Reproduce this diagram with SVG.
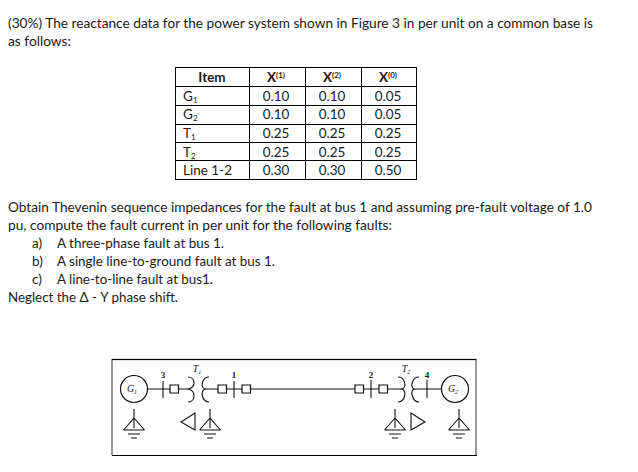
<svg xmlns="http://www.w3.org/2000/svg" width="638" height="472" viewBox="0 0 638 472">
<style>
text{font-family:"Lato","Liberation Sans",sans-serif;fill:#1a1a1a}
.t{font-size:13.5px}
.c{font-size:13.5px;text-anchor:middle}
.b{font-weight:700}
.s{font-size:8px}
.g{stroke:#111;stroke-width:1.1;fill:none}
.f{stroke:#111;stroke-width:1.2;fill:#fff}
.l{font-family:"Liberation Serif",serif;font-size:9px;font-weight:700;text-anchor:middle;fill:#222}
.li{font-family:"Liberation Serif",serif;font-size:10px;font-style:italic;text-anchor:middle;fill:#222}
.ls{font-family:"Liberation Serif",serif;font-size:6px;font-style:italic;fill:#222}
</style>
<defs>
<g id="gnd" class="g"><path d="M0,-21V-2M0,-12L-10.500,0M0,-12L10.500,0M-10.500,0H10.500M-6,4H6M-3,8H3"/></g>
<path id="box" d="M0,-4H8.500V4H0Z" class="f"/>
</defs>
<rect width="638" height="472" fill="#fff"/>
<g id="text-top">
<text class="t" x="8" y="28" textLength="585" lengthAdjust="spacingAndGlyphs">(30%) The reactance data for the power system shown in Figure 3 in per unit on a common base is</text>
<text class="t" x="8" y="46" textLength="63" lengthAdjust="spacingAndGlyphs">as follows:</text>
</g>
<g id="table">
<rect x="175.500" y="67.500" width="241" height="112" fill="none" stroke="#000" stroke-width="1"/>
<path d="M175 86.500H417M175 105.500H417M175 124.500H417M175 142.500H417M175 160.500H417M249.500 67V180M305.500 67V180M361.500 67V180" stroke="#000" stroke-width="1" fill="none"/>
<text class="c b" x="212" y="82">Item</text>
<text class="c b" x="276" y="82">X<tspan class="s" dy="-4">(1)</tspan></text>
<text class="c b" x="332" y="82">X<tspan class="s" dy="-4">(2)</tspan></text>
<text class="c b" x="388" y="82">X<tspan class="s" dy="-4">(0)</tspan></text>
<text class="t" x="183" y="101">G<tspan class="s" dy="2">1</tspan></text>
<text class="t" x="183" y="119">G<tspan class="s" dy="2">2</tspan></text>
<text class="t" x="183" y="138">T<tspan class="s" dy="2">1</tspan></text>
<text class="t" x="183" y="157">T<tspan class="s" dy="2">2</tspan></text>
<text class="t" x="183" y="175">Line 1-2</text>
<text class="c" x="276" y="101">0.10</text><text class="c" x="332" y="101">0.10</text><text class="c" x="388" y="101">0.05</text>
<text class="c" x="276" y="119">0.10</text><text class="c" x="332" y="119">0.10</text><text class="c" x="388" y="119">0.05</text>
<text class="c" x="276" y="138">0.25</text><text class="c" x="332" y="138">0.25</text><text class="c" x="388" y="138">0.25</text>
<text class="c" x="276" y="157">0.25</text><text class="c" x="332" y="157">0.25</text><text class="c" x="388" y="157">0.25</text>
<text class="c" x="276" y="175">0.30</text><text class="c" x="332" y="175">0.30</text><text class="c" x="388" y="175">0.50</text>
</g>
<g id="text-body">
<text class="t" x="8" y="212" textLength="584" lengthAdjust="spacingAndGlyphs">Obtain Thevenin sequence impedances for the fault at bus 1 and assuming pre-fault voltage of 1.0</text>
<text class="t" x="8" y="230" textLength="384" lengthAdjust="spacingAndGlyphs">pu, compute the fault current in per unit for the following faults:</text>
<text class="t" x="32" y="248">a)</text><text class="t" x="57" y="248" textLength="167" lengthAdjust="spacingAndGlyphs">A three-phase fault at bus 1.</text>
<text class="t" x="32" y="266">b)</text><text class="t" x="57" y="266" textLength="218" lengthAdjust="spacingAndGlyphs">A single line-to-ground fault at bus 1.</text>
<text class="t" x="32" y="284">c)</text><text class="t" x="57" y="284" textLength="156" lengthAdjust="spacingAndGlyphs">A line-to-line fault at bus1.</text>
<text class="t" x="8" y="302" textLength="170" lengthAdjust="spacingAndGlyphs">Neglect the Δ - Y phase shift.</text>
</g>
<g id="frame"><path d="M112 455V359.500H476V455" fill="none" stroke="#777" stroke-width="1.500"/><path d="M112 455.500H477M112 359.500H476" stroke="#000" stroke-width="1" fill="none"/></g>
<g id="connectors" class="g">
<path d="M147.500 389H170M178.500 389H188M205 389H218M226.500 389H242M250.500 389H355M363.500 389H379M387.500 389H402M414 389H441.500"/>
</g>
<g id="G1"><circle cx="134" cy="389" r="13.500" class="f"/><text class="li" x="132" y="392">G<tspan class="ls" dy="2">1</tspan></text></g>
<g id="G2"><circle cx="455" cy="389" r="13.500" class="f"/><text class="li" x="453" y="392">G<tspan class="ls" dy="2">2</tspan></text></g>
<g id="G1-ground"><use href="#gnd" x="134" y="430"/></g>
<g id="G2-ground"><use href="#gnd" x="459" y="430"/></g>
<g id="bus3"><path d="M163 381V398" class="g"/><text class="l" x="163" y="378">3</text></g>
<g id="bus1"><path d="M234 381V398" class="g"/><text class="l" x="234" y="378">1</text></g>
<g id="bus2"><path d="M371 380V398" class="g"/><text class="l" x="371" y="378">2</text></g>
<g id="bus4"><path d="M427 380V398" class="g"/><text class="l" x="427" y="378">4</text></g>
<g id="box-a"><use href="#box" x="170" y="389"/></g>
<g id="box-b"><use href="#box" x="218" y="389"/></g>
<g id="box-c"><use href="#box" x="242" y="389"/></g>
<g id="box-d"><use href="#box" x="355" y="389"/></g>
<g id="box-e"><use href="#box" x="379" y="389"/></g>
<g id="T1">
<path class="g" d="M188 377C195 377 197 387 188 389C197 391 195 402 188 402M209 377C202 377 200 387 205 389C200 391 202 402 209 402"/>
<text class="li" x="197" y="372">T<tspan class="ls" dy="2">1</tspan></text>
<path class="g" d="M195 413V430L181 422Z"/>
<use href="#gnd" x="210" y="430"/>
</g>
<g id="T2">
<path class="g" d="M398 377C405 377 407 387 402 389C407 391 405 402 398 402M419 377C412 377 410 387 414 389C410 391 412 402 419 402"/>
<text class="li" x="406" y="372">T<tspan class="ls" dy="2">2</tspan></text>
<path class="g" d="M411 413V430L425 422Z"/>
<use href="#gnd" x="395" y="430"/>
</g>
</svg>
